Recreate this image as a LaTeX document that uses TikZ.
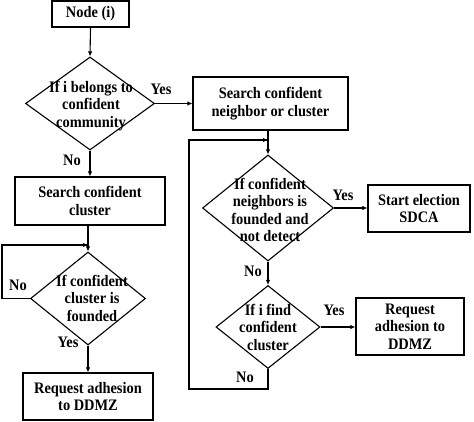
\documentclass[tikz,border=0pt]{standalone}
\usepackage{fontspec}
\setmainfont{Liberation Serif}[FakeStretch=0.9]
\usetikzlibrary{shapes.geometric,arrows.meta}
\begin{document}
\begin{tikzpicture}[x=1pt,y=-1pt,
  every node/.style={font=\fontsize{16}{17.5}\selectfont\bfseries},
  box/.style={draw,line width=1.1pt,rectangle,inner sep=0pt,align=center},
  dia/.style={draw,line width=1.1pt,diamond,inner sep=0pt},
  dtext/.style={align=center,inner sep=0pt},
  lbl/.style={inner sep=0pt},
  link/.style={line width=1.1pt,-{Latex[length=5pt,width=4.5pt]}},
  plain/.style={line width=1.1pt}]
\useasboundingbox (0,0) rectangle (474,422);
% boxes
\node[box,minimum width=77pt,minimum height=26pt] (b0) at (90.5,14) {Node (i)};
\node[box,minimum width=155pt,minimum height=53pt] (b1) at (270.5,103.5) {Search confident\\neighbor or cluster};
\node[box,minimum width=150pt,minimum height=48pt] (b2) at (90,201) {Search confident\\cluster};
\node[box,minimum width=130pt,minimum height=47pt] (b3) at (88,396.5) {Request adhesion\\to DDMZ};
\node[box,minimum width=102pt,minimum height=47pt] (b4) at (419,208.5) {Start election\\SDCA};
\node[box,minimum width=108pt,minimum height=57pt] (b5) at (410,326.5) {Request\\adhesion to\\DDMZ};
% diamonds
\node[dia,minimum width=129pt,minimum height=93pt] (d1) at (90,103.5) {};
\node[dtext] (d1t) at (91,106) {If i belongs to\\confident\\community};
\node[dia,minimum width=115pt,minimum height=93pt] (d2) at (88,298.5) {};
\node[dtext] (d2t) at (92,298) {If confident\\cluster is\\founded};
\node[dia,minimum width=131pt,minimum height=106pt] (d3) at (268,208) {};
\node[dtext] (d3t) at (270,210) {If confident\\neighbors is\\founded and\\not detect};
\node[dia,minimum width=104pt,minimum height=83pt] (d4) at (268,327) {};
\node[dtext] (d4t) at (268,327) {If i find\\confident\\cluster};
% labels
\node[lbl] (y1) at (161,89) {Yes};
\node[lbl] (n1) at (72,160) {No};
\node[lbl] (n2) at (18,285) {No};
\node[lbl] (y2) at (68,342) {Yes};
\node[lbl] (y3) at (343,195) {Yes};
\node[lbl] (n3) at (253,271) {No};
\node[lbl] (y4) at (334,310) {Yes};
\node[lbl] (n4) at (245,377) {No};
% helper coordinates
\coordinate (l1a) at (2,298.5);
\coordinate (l1b) at (2,245);
\coordinate (l1c) at (88,245);
\coordinate (r1a) at (268,389);
\coordinate (r1b) at (189,389);
\coordinate (r1c) at (189,140);
\coordinate (r1d) at (268,140);
% connectors
\draw[link] (b0.south) -- (d1.north);
\draw[link] (d1.east) -- (b1.west |- d1.east);
\draw[link] (d1.south) -- (d1.south |- b2.north);
\draw[link] (b2.south -| d2.north) -- (d2.north);
\draw[link] (d2.south) -- (d2.south |- b3.north);
\draw[plain] (d2.west) -- (l1a) -- (l1b) -- (l1c);
\draw[link] (l1b) -- (l1c);
\draw[link] (b1.south -| d3.north) -- (d3.north);
\draw[link] (d3.east) -- (b4.west |- d3.east);
\draw[link] (d3.south) -- (d4.north);
\draw[link] (d4.east) -- (b5.west |- d4.east);
\draw[plain] (d4.south) -- (r1a) -- (r1b) -- (r1c) -- (r1d);
\draw[link] (r1c) -- (r1d);
\end{tikzpicture}
\end{document}
